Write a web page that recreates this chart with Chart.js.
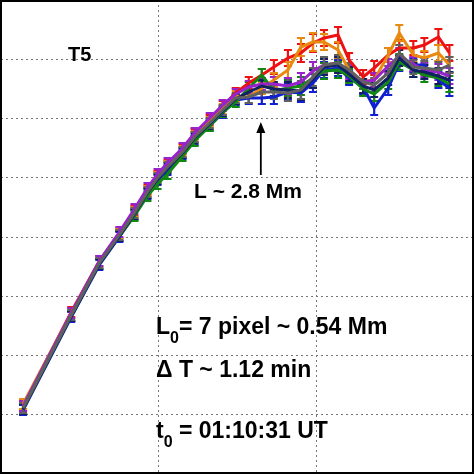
<!DOCTYPE html>
<html><head><meta charset="utf-8">
<script src="https://cdn.jsdelivr.net/npm/chart.js"></script>
<style>html,body{margin:0;padding:0;background:#fff}#w{width:474px;height:474px}</style>
</head><body><div id="w"><canvas id="c"></canvas></div>
<script>
const xs=[23,71,99,119,134,147,157,167,182,194,209,222,235,248,261,273,287,300,312,323,337,348,362,373,387,398,412,423,437,448];
const red=[68,162,213,241,263,284,298,309,325,340,354,368,381,391,399,407,416,421,431,436,439,414,397,406,419,426,426,429,437,421];
const orange=[70,161,212,240,262,283,297,308,323,338,352,365,378,377,386,394,404,427,432,432,424,404,392,394,419,441,419,416,421,409];
const blue=[64,157,209,237,259,280,294,304,320,334,348,361,374,376,376,377,382,381,391,404,406,396,387,366,386,411,409,409,394,386];
const green=[65,158,210,238,258,278,290,300,318,333,348,362,372,386,399,383,386,388,396,403,404,398,385,380,392,412,404,399,396,390];
const purple=[68,161,213,242,265,286,300,311,326,341,356,369,380,387,390,390,388,392,403,409,411,402,392,394,408,418,410,404,402,398];
const navy=[65,158,210,238,260,281,295,306,321,336,350,363,375,382,388,385,384,383,395,407,409,400,388,384,396,416,404,402,398,394];
const gray=[66,159,211,239,261,282,296,307,322,337,351,364,376,377,382,382,381,384,397,409,411,404,392,389,401,421,407,406,404,409];
const errs=[5,5,5,5,5,5,5,5,5,5,5,5,5,6,6,7,8,9,9,8,8,7,7,7,7,8,7,7,8,8];
const series=[["#606060",gray],["#102060",navy],["#9922cc",purple],["#118811",green],["#1020d0",blue],["#e88a10",orange],["#ee1111",red]];
const datasets=series.map(([c,v])=>({data:v.map((y,i)=>({x:xs[i],y})),borderColor:c,backgroundColor:c,borderWidth:3,pointRadius:0,tension:0,errColor:c}));
const errPlugin={id:'err',beforeDatasetsDraw(ch){const ctx=ch.ctx,xS=ch.scales.x,yS=ch.scales.y;ctx.save();ctx.lineWidth=2.2;
 ch.data.datasets.slice().reverse().forEach(d=>{ctx.strokeStyle=d.errColor;d.data.forEach((p,i)=>{const px=xS.getPixelForValue(p.x),t=yS.getPixelForValue(p.y+errs[i]),b=yS.getPixelForValue(p.y-errs[i]);
 ctx.beginPath();ctx.moveTo(px,t);ctx.lineTo(px,b);ctx.moveTo(px-4,t);ctx.lineTo(px+4,t);ctx.moveTo(px-4,b);ctx.lineTo(px+4,b);ctx.stroke();});});
 ctx.restore();}};
const notes={id:'notes',afterDraw(ch){const ctx=ch.ctx,xS=ch.scales.x;ctx.save();ctx.fillStyle='#000';ctx.textBaseline='alphabetic';
 const f=s=>'bold '+s+'px "Liberation Sans",Arial,sans-serif';
 ctx.font=f(20);ctx.fillText('T5',68,61);
 ctx.font=f(21);ctx.fillText('L ~ 2.8 Mm',194,198);
 const ax=xS.getPixelForValue(260);ctx.strokeStyle='#000';ctx.lineWidth=1.8;ctx.beginPath();ctx.moveTo(ax,175);ctx.lineTo(ax,130);ctx.stroke();
 ctx.beginPath();ctx.moveTo(ax,122);ctx.lineTo(ax-4.5,133);ctx.lineTo(ax+4.5,133);ctx.closePath();ctx.fill();
 ctx.font=f(23);ctx.fillText('L',156,334);let w=ctx.measureText('L').width;ctx.font=f(16);ctx.fillText('0',156+w,343);let w2=ctx.measureText('0').width;
 ctx.font=f(23);ctx.fillText('= 7 pixel ~ 0.54 Mm',156+w+w2,334);
 ctx.fillText('\u0394 T ~ 1.12 min',156,377);
 ctx.fillText('t',156,438);w=ctx.measureText('t').width;ctx.font=f(16);ctx.fillText('0',156+w,447);w2=ctx.measureText('0').width;
 ctx.font=f(23);ctx.fillText(' = 01:10:31 UT',156+w+w2,438);
 ctx.restore();}};
new Chart(document.getElementById('c'),{type:'line',data:{datasets},
options:{responsive:true,maintainAspectRatio:false,animation:false,layout:{padding:0},
plugins:{legend:{display:false},tooltip:{enabled:false}},
scales:{x:{type:'linear',min:0,max:472.5,ticks:{display:false,stepSize:157.5},grid:{color:'#777',lineWidth:1,drawTicks:false},border:{color:'#000',width:2,dash:[2,3]}},
y:{min:0,max:474,ticks:{display:false,stepSize:59.25},grid:{color:'#777',lineWidth:1,drawTicks:false},border:{color:'#000',width:2,dash:[2,3]}}}},
plugins:[errPlugin,notes,{id:'frame',afterDraw(ch){const a=ch.chartArea,c=ch.ctx;c.save();c.strokeStyle='#000';c.lineWidth=2;c.strokeRect(a.left+1,a.top+1,a.width-2,a.height-2);c.restore();}}]});
</script></body></html>
